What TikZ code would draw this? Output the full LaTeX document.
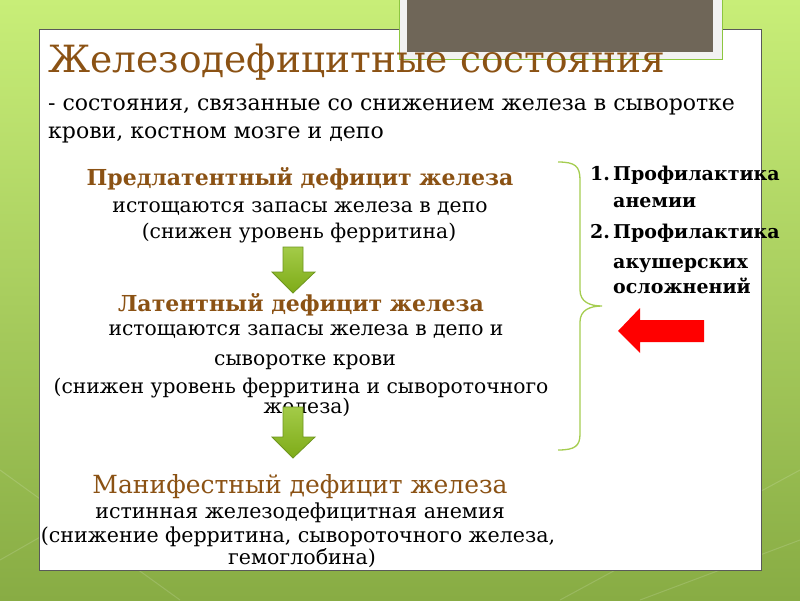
\documentclass[tikz,border=0pt]{standalone}
\usepackage{fontspec}
\setmainfont{DejaVu Serif}
\newfontfamily\wideserif{DejaVu Serif}
\usepackage{xcolor}
\usepackage{tikz}
\usetikzlibrary{positioning,calc}

\definecolor{ironbrown}{RGB}{139,82,20}
\definecolor{bgtop}{RGB}{200,238,120}
\definecolor{bgbottom}{RGB}{136,172,68}
\definecolor{boxgray}{RGB}{111,102,88}
\definecolor{framegreen}{RGB}{141,198,63}
\definecolor{bracegreen}{RGB}{165,205,80}
\definecolor{arrowgreen}{RGB}{140,190,26}
\definecolor{arrowedge}{RGB}{110,150,30}

\tikzset{
  title/.style={anchor=base west, inner sep=0pt, text=ironbrown, font=\fontsize{37.5}{42}\selectfont},
  subline/.style={anchor=base west, inner sep=0pt, font=\fontsize{22}{26}\selectfont},
  stage/.style={anchor=base, inner sep=0pt, text=ironbrown, font=\wideserif\bfseries\fontsize{22}{26}\selectfont},
  stageline/.style={anchor=base, inner sep=0pt, font=\wideserif\fontsize{20.3}{24}\selectfont},
  manifest/.style={anchor=base, inner sep=0pt, text=ironbrown, font=\wideserif\fontsize{25}{28}\selectfont},
  manline/.style={anchor=base, inner sep=0pt, font=\wideserif\fontsize{20.6}{24}\selectfont},
  listline/.style={anchor=base west, inner sep=0pt, font=\wideserif\bfseries\fontsize{19}{22}\selectfont},
  downarrow/.style={top color=arrowgreen!80!white, bottom color=arrowgreen!90!black, draw=arrowedge, line width=0.8pt},
}

\begin{document}
\begin{tikzpicture}[x=1pt, y=-1pt]
    \useasboundingbox (0,0) rectangle (800,600);

    % Background
    \shade[top color=bgtop, bottom color=bgbottom] (0,0) rectangle (800,600);
    \draw[white, opacity=0.15, line width=1pt] (0,470) -- (180,600);
    \draw[white, opacity=0.15, line width=1pt] (0,560) -- (140,480);
    \draw[white, opacity=0.15, line width=1pt] (560,600) -- (800,470);
    \draw[white, opacity=0.15, line width=1pt] (640,600) -- (800,540);

    % White panel
    \draw[black!65, line width=1pt, fill=white] (39,29) rectangle (761,570);

    % Top box
    \draw[framegreen, line width=0.8pt, fill=black!5] (399,-10) rectangle (722,59);
    \fill[boxgray] (407,-10) rectangle (713,52);

    % Title
    \node[title] (title) at (48,72) {Железодефицитные состояния};
    \node[subline] (sub1) at (48,110) {- состояния, связанные со снижением железа в сыворотке};
    \node[subline] (sub2) at (48,138) {крови, костном мозге и депо};

    % Stage 1
    \node[stage] (pre) at (300,185) {Предлатентный дефицит железа};
    \node[stageline] (pre1) at (300,212) {истощаются запасы железа в депо};
    \node[stageline] (pre2) at (299,238) {(снижен уровень ферритина)};

    % Stage 2
    \node[stage] (lat) at (301,311) {Латентный дефицит железа};
    \node[stageline] (lat1) at (306,335) {истощаются запасы железа в депо и};
    \node[stageline] (lat2) at (305,365) {сыворотке крови};
    \node[stageline] (lat3) at (301,393) {(снижен уровень ферритина и сывороточного};
    \node[stageline] (lat4) at (307,413) {железа)};

    % Stage 3
    \node[manifest] (man) at (300,493) {Манифестный дефицит железа};
    \node[manline] (man1) at (300,518) {истинная железодефицитная анемия};
    \node[manline] (man2) at (298,542) {(снижение ферритина, сывороточного железа,};
    \node[manline] (man3) at (302,564) {гемоглобина)};

    % Green arrows
    \draw[downarrow] (283,247) -- (303,247) -- (303,272) -- (315,272) -- (293,293) -- (272,272) -- (283,272) -- cycle;
    \draw[downarrow] (283,407) -- (303,407) -- (303,437) -- (315,437) -- (293,458) -- (272,437) -- (283,437) -- cycle;

    % Brace
    \draw[bracegreen, line width=1.3pt] (558,162) .. controls (575,162) and (580,166) .. (580,180)
        -- (580,290) .. controls (580,302) and (590,306) .. (602,306)
        .. controls (590,306) and (580,310) .. (580,322)
        -- (580,434) .. controls (580,446) and (575,450) .. (558,450);

    % Prevention list
    \node[listline] (n1) at (590,180) {1.};
    \node[listline] (p1) at (613,180) {Профилактика};
    \node[listline] (p1b) at (613,207) {анемии};
    \node[listline] (n2) at (590,238) {2.};
    \node[listline] (p2) at (613,238) {Профилактика};
    \node[listline] (p2b) at (613,268) {акушерских};
    \node[listline] (p2c) at (613,293) {осложнений};

    % Red arrow
    \fill[red] (618,331) -- (640,308) -- (640,320) -- (704,320) -- (704,342) -- (640,342) -- (640,353) -- cycle;
\end{tikzpicture}
\end{document}
